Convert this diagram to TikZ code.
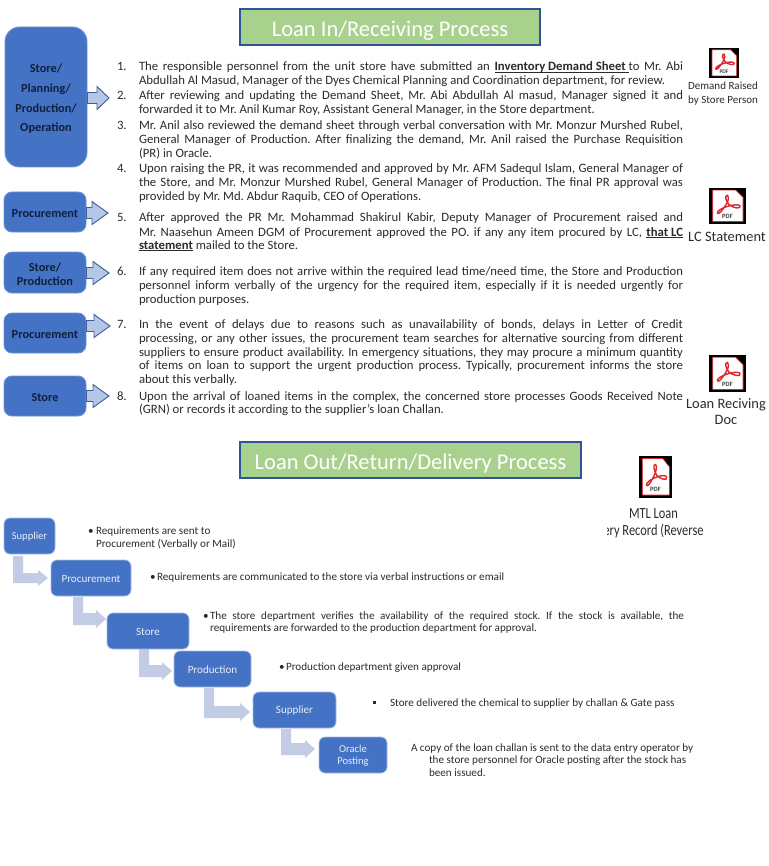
\documentclass[tikz,border=0pt]{standalone}
\usepackage{fontspec}
\setmainfont{Carlito}
\usetikzlibrary{calc}
\frenchspacing
\definecolor{boxblue}{HTML}{4472C4}
\definecolor{boxedge}{HTML}{6E93D6}
\definecolor{navy}{HTML}{10203F}
\definecolor{bodyink}{HTML}{2B2B2B}
\definecolor{titlegreen}{HTML}{A9D18E}
\definecolor{titleedge}{HTML}{2F5597}
\definecolor{arrowfill}{HTML}{B4C7E7}
\definecolor{arrowedge}{HTML}{3F5F96}
\definecolor{elbowfill}{HTML}{C3CCE5}
\definecolor{pdfred}{HTML}{E0282C}
\newlength{\pxu}\setlength{\pxu}{0.75pt}
\newcommand{\fs}[2]{\fontsize{#1\pxu}{#2\pxu}\selectfont}
\newsavebox{\ulbox}
\newcommand{\ulb}[1]{\sbox{\ulbox}{\bfseries #1}\rlap{\rule[-1.7\pxu]{\wd\ulbox}{0.9\pxu}}\usebox{\ulbox}}
\newcommand{\pboxshift}{-1.4pt}
\tikzset{
  x=0.75pt,y=-0.75pt,
  bodyline/.style={anchor=base west,inner sep=0pt,outer sep=0pt,text=bodyink,font=\fs{12.72}{14}},
  smallline/.style={anchor=base west,inner sep=0pt,outer sep=0pt,text=bodyink,font=\fs{11.15}{13}},
  numline/.style={bodyline},
  upperbox/.style={draw=boxedge,line width=0.7pt,fill=boxblue,rounded corners=6pt,inner sep=0pt,align=center,text=navy,font=\fs{12.3}{14.5}\bfseries},
  lowerbox/.style={draw=boxedge!60!white,line width=0.6pt,fill=boxblue,rounded corners=4.5pt,inner sep=0pt,align=center,text=white!88!boxblue,font=\fs{11.1}{13}},
  titlebox/.style={draw=titleedge,line width=0.9pt,fill=titlegreen,inner sep=0pt},
  titletext/.style={inner sep=0pt,text=white,font=\fs{22.5}{26}},
  blockarrow/.style={draw=arrowedge,line width=0.7pt,fill=arrowfill,line join=miter},
  elbowarrow/.style={fill=elbowfill,draw=none},
  doclabel/.style={inner sep=0pt,align=center,text=bodyink},
}
% name, x0, y0, x1, y1, style, text
\newcommand{\pbox}[7]{\node[#6,minimum width={(#4-#2)*0.75pt},minimum height={(#5-#3)*0.75pt}] (#1) at ({(#2+#4)/2},{(#3+#5)/2}) {};
  \node[#6,draw=none,fill=none,yshift=\pboxshift] (#1t) at (#1) {#7};}
\newcommand{\tbox}[6]{\node[titlebox,minimum width={(#4-#2)*0.75pt},minimum height={(#5-#3)*0.75pt}] (#1) at ({(#2+#4)/2},{(#3+#5)/2}) {};
  \node[titletext,yshift=-2.7pt] (#1t) at (#1) {#6};}
% justified line
\newcommand{\jline}[3]{\node[bodyline] (#1) at (139,#2) {\makebox[544\pxu][s]{#3}};}
\newcommand{\pline}[3]{\node[bodyline] (#1) at (139,#2) {#3};}
\newcommand{\numb}[3]{\node[numline] (#1) at (117,#2) {#3};}
% block arrow: box, tip x, tip y, head length
\newcommand{\barrow}[4]{\coordinate (tip#1) at (#2,#3);
  \draw[blockarrow] (#1.east |- tip#1) ++(0,-5.5) -- ($(tip#1)+(-#4,-5.5)$) -- ($(tip#1)+(-#4,-11.5)$) -- (tip#1) -- ($(tip#1)+(-#4,11.5)$) -- ($(tip#1)+(-#4,5.5)$) -- ($(#1.east |- tip#1)+(0,5.5)$) -- cycle;}
% elbow: x, ytop, xtip, yc, half thickness
\newcommand{\elbow}[5]{\fill[elbowarrow] (#1,#2) -- ({#1+10},#2) -- ({#1+10},{#4-#5}) -- ({#3-10},{#4-#5}) -- ({#3-10},{#4-#5-3}) -- (#3,#4) -- ({#3-10},{#4+#5+3}) -- ({#3-10},{#4+#5}) -- (#1,{#4+#5}) -- cycle;}
% pdf icon: x0,y0,x1,y1,pdf text size
\newcommand{\pdficon}[6]{\begin{scope}[shift={(#2,#3)},x={({(#4-#2)*0.75pt},0pt)},y={(0pt,{-(#5-#3)*0.75pt})}]
  \fill[black] (0,0) rectangle (1,1);
  \fill[white] (0.10,0.06) -- (0.72,0.06) -- (0.92,0.26) -- (0.92,0.93) -- (0.10,0.93) -- cycle;
  \draw[pdfred,line width=0.5pt] (0.10,0.06) -- (0.72,0.06) -- (0.92,0.26) -- (0.92,0.93) -- (0.10,0.93) -- cycle;
  \draw[pdfred,line width=1.05pt,line join=round] (0.50,0.20) .. controls (0.40,0.20) and (0.47,0.38) .. (0.54,0.46) .. controls (0.62,0.55) and (0.88,0.60) .. (0.84,0.50) .. controls (0.80,0.42) and (0.45,0.50) .. (0.30,0.60) .. controls (0.16,0.69) and (0.24,0.76) .. (0.32,0.66) .. controls (0.42,0.54) and (0.60,0.28) .. (0.50,0.20) -- cycle;
  \node[inner sep=0pt,text=black!75,font=\fs{#6}{#6}\bfseries] (#1) at (0.5,0.80) {PDF};
\end{scope}}
\begin{document}
\begin{tikzpicture}
\useasboundingbox (0,0) rectangle (768,866);
\fill[white] (0,0) rectangle (768,866);

% Titles
\tbox{title1}{240}{9}{540}{45}{Loan In/Receiving Process}
\tbox{title2}{240}{442}{581}{478}{Loan Out/Return/Delivery Process}

% Upper role boxes
\pbox{u1}{5}{27}{87}{167}{upperbox,rounded corners=11pt,font=\fs{12.3}{19.8}\bfseries}{Store/\\Planning/\\Production/\\Operation}
\pbox{u2}{4}{192}{86}{232}{upperbox}{Procurement}
\pbox{u3}{4}{252}{86}{293}{upperbox}{Store/\\Production}
\pbox{u4}{4}{313}{86}{353}{upperbox}{Procurement}
\pbox{u5}{4}{376}{86}{416}{upperbox}{Store}
\barrow{u1}{109}{98}{12}
\barrow{u2}{108}{213}{16}
\barrow{u3}{109}{273}{16}
\barrow{u4}{110}{326}{16}
\barrow{u5}{109}{396}{16}

% Numbered text
\numb{n1}{71}{1.}
\jline{a1}{71}{The responsible personnel from the unit store have submitted an \ulb{Inventory Demand Sheet }to Mr. Abi}
\pline{a2}{85}{Abdullah Al Masud, Manager of the Dyes Chemical Planning and Coordination department, for review.}
\numb{n2}{100}{2.}
\jline{b1}{100}{After reviewing and updating the Demand Sheet, Mr. Abi Abdullah Al masud, Manager signed it and}
\pline{b2}{114}{forwarded it to Mr. Anil Kumar Roy, Assistant General Manager, in the Store department.}
\numb{n3}{130}{3.}
\jline{c1}{130}{Mr. Anil also reviewed the demand sheet through verbal conversation with Mr. Monzur Murshed Rubel,}
\jline{c2}{144}{General Manager of Production. After finalizing the demand, Mr. Anil raised the Purchase Requisition}
\pline{c3}{158}{(PR) in Oracle.}
\numb{n4}{173}{4.}
\jline{d1}{173}{Upon raising the PR, it was recommended and approved by Mr. AFM Sadequl Islam, General Manager of}
\jline{d2}{187}{the Store, and Mr. Monzur Murshed Rubel, General Manager of Production. The final PR approval was}
\pline{d3}{200}{provided by Mr. Md. Abdur Raquib, CEO of Operations.}
\numb{n5}{222}{5.}
\jline{e1}{222}{After approved the PR Mr. Mohammad Shakirul Kabir, Deputy Manager of Procurement raised and}
\jline{e2}{236}{Mr. Naasehun Ameen DGM of Procurement approved the PO. if any any item procured by LC, \ulb{that LC}}
\pline{e3}{249}{\ulb{statement} mailed to the Store.}
\numb{n6}{275}{6.}
\jline{f1}{275}{If any required item does not arrive within the required lead time/need time, the Store and Production}
\jline{f2}{289}{personnel inform verbally of the urgency for the required item, especially if it is needed urgently for}
\pline{f3}{303}{production purposes.}
\numb{n7}{328}{7.}
\jline{g1}{328}{In the event of delays due to reasons such as unavailability of bonds, delays in Letter of Credit}
\jline{g2}{342}{processing, or any other issues, the procurement team searches for alternative sourcing from different}
\jline{g3}{356}{suppliers to ensure product availability. In emergency situations, they may procure a minimum quantity}
\jline{g4}{369}{of items on loan to support the urgent production process. Typically, procurement informs the store}
\pline{g5}{383}{about this verbally.}
\numb{n8}{400}{8.}
\jline{h1}{400}{Upon the arrival of loaned items in the complex, the concerned store processes Goods Received Note}
\pline{h2}{413}{(GRN) or records it according to the supplier's loan Challan.}

% PDF icons and labels
\pdficon{pdf1}{709}{48}{739}{78}{5.5}
\node[doclabel,font=\fs{11}{13.2}] (lab1) at (723,93.5) {Demand Raised\\by Store Person};
\pdficon{pdf2}{709}{188}{746}{224}{6.5}
\node[doclabel,font=\fs{14.4}{16}] (lab2) at (727,236.5) {LC Statement};
\pdficon{pdf3}{709}{355}{746}{392}{6.5}
\node[doclabel,font=\fs{14.4}{16}] (lab3) at (726,412) {Loan Reciving\\Doc};
\pdficon{pdf4}{639}{456}{672}{498}{6.5}
\node[doclabel] (lab4a) at (653.5,514) {\scalebox{0.8}[1]{\fs{15.5}{17}MTL Loan}};
\begin{scope}
\clip (607.5,520) rectangle (702,545);
\node[doclabel] (lab4b) at (653.5,531) {\scalebox{0.8}[1]{\fs{15.5}{17}ery Record (Reverse}};
\end{scope}

% Lower flow
\renewcommand{\pboxshift}{-0.7pt}
\elbow{13}{556}{48}{578}{5}
\elbow{73}{597}{106}{619}{6}
\elbow{139}{649}{172}{671}{6}
\elbow{204}{688}{250}{712}{6}
\elbow{281}{729}{315}{749}{6}
\pbox{s1}{4}{518}{55}{554}{lowerbox,font=\fs{10.6}{13}}{Supplier}
\pbox{s2}{51}{560}{131}{596}{lowerbox}{Procurement}
\pbox{s3}{107}{613}{189}{649}{lowerbox}{Store}
\pbox{s4}{174}{651}{251}{687}{lowerbox}{Production}
\pbox{s5}{253}{692}{336}{728}{lowerbox}{Supplier}
\pbox{s6}{319}{737}{387}{773}{lowerbox,font=\fs{10.6}{12.3}}{Oracle\\Posting}

% Lower notes
\node[smallline] (q0) at (88,534) {\textbullet};
\node[smallline] (q1) at (96,534) {Requirements are sent to};
\node[smallline] (q2) at (96,547) {Procurement (Verbally or Mail)};
\node[smallline] (r0) at (150,580) {\textbullet};
\node[smallline] (r1) at (157,580) {Requirements are communicated to the store via verbal instructions or email};
\node[smallline] (t0) at (203,619) {\textbullet};
\node[smallline] (t1) at (210,619) {\makebox[474\pxu][s]{The store department verifies the availability of the required stock. If the stock is available, the}};
\node[smallline] (t2) at (210,631) {requirements are forwarded to the production department for approval.};
\node[smallline] (v0) at (279,670) {\textbullet};
\node[smallline] (v1) at (286,670) {Production department given approval};
\fill[bodyink] (372.5,700.5) rectangle (375.5,703.5);
\node[smallline] (w1) at (390,706) {Store delivered the chemical to supplier by challan \& Gate pass};
\node[smallline] (y1) at (411,751) {A copy of the loan challan is sent to the data entry operator by};
\node[smallline] (y2) at (429,763) {the store personnel for Oracle posting after the stock has};
\node[smallline] (y3) at (429,776) {been issued.};
\end{tikzpicture}
\end{document}
